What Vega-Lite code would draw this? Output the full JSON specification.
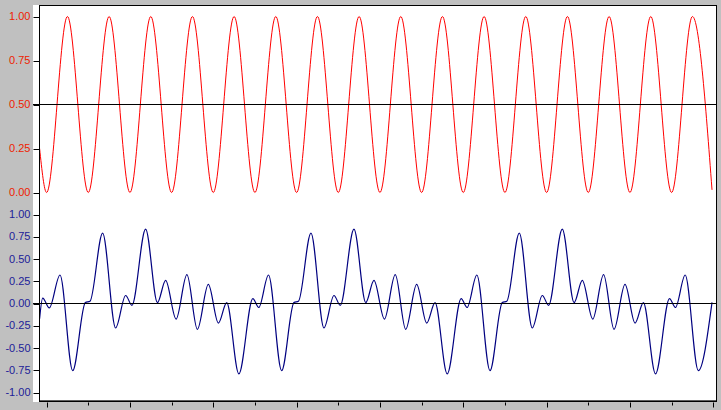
{
  "$schema": "https://vega.github.io/schema/vega-lite/v6.json",
  "width": 684,
  "height": 397,
  "autosize": {"type": "none"},
  "padding": {"left": 33, "top": 5, "right": 4, "bottom": 8},
  "background": "#c0c0c0",
  "config": {
    "view": {"fill": "white", "stroke": null},
    "axis": {"labelFont": "Liberation Sans", "labelFontSize": 11, "grid": false, "domain": false, "title": null},
    "axisX": {"orient": "bottom", "values": [0,1,2,3,4,5,6,7,8,9,10,11,12,13,14,15,16], "labels": false, "ticks": true,
              "tickColor": "black", "tickSize": {"condition": {"test": "datum.value % 2 === 0", "value": 5}, "value": 3}}
  },
  "datasets": {
    "red": [
      {"t": -0.168, "v": 0.25}, {"t": 0, "v": 0}, {"t": 0.5, "v": 1}, {"t": 1, "v": 0}, {"t": 1.5, "v": 1},
      {"t": 2, "v": 0}, {"t": 2.5, "v": 1}, {"t": 3, "v": 0}, {"t": 3.5, "v": 1}, {"t": 4, "v": 0},
      {"t": 4.5, "v": 1}, {"t": 5, "v": 0}, {"t": 5.5, "v": 1}, {"t": 6, "v": 0}, {"t": 6.5, "v": 1},
      {"t": 7, "v": 0}, {"t": 7.5, "v": 1}, {"t": 8, "v": 0}, {"t": 8.5, "v": 1}, {"t": 9, "v": 0},
      {"t": 9.5, "v": 1}, {"t": 10, "v": 0}, {"t": 10.5, "v": 1}, {"t": 11, "v": 0}, {"t": 11.5, "v": 1},
      {"t": 12, "v": 0}, {"t": 12.5, "v": 1}, {"t": 13, "v": 0}, {"t": 13.5, "v": 1}, {"t": 14, "v": 0},
      {"t": 14.5, "v": 1}, {"t": 15, "v": 0}, {"t": 15.5, "v": 1}, {"t": 15.97, "v": 0.015}
    ],
    "blue": [
      {"t": -0.168, "v": -0.17}, {"t": -0.094, "v": 0.06}, {"t": 0.065, "v": -0.05}, {"t": 0.322, "v": 0.32},
      {"t": 0.626, "v": -0.755}, {"t": 0.929, "v": 0.01}, {"t": 1.042, "v": 0.025},
      {"t": 1.345, "v": 0.79}, {"t": 1.657, "v": -0.275}, {"t": 1.897, "v": 0.09}, {"t": 2.048, "v": -0.02},
      {"t": 2.377, "v": 0.835}, {"t": 2.66, "v": 0.01}, {"t": 2.857, "v": 0.26}, {"t": 3.107, "v": -0.175},
      {"t": 3.368, "v": 0.325}, {"t": 3.618, "v": -0.29}, {"t": 3.882, "v": 0.215}, {"t": 4.122, "v": -0.22},
      {"t": 4.323, "v": 0.01}, {"t": 4.614, "v": -0.79}, {"t": 4.95, "v": 0.055}, {"t": 5.091, "v": -0.045},
      {"t": 5.326, "v": 0.32}, {"t": 5.641, "v": -0.755}, {"t": 5.935, "v": 0.01}, {"t": 6.045, "v": 0.025},
      {"t": 6.345, "v": 0.79}, {"t": 6.657, "v": -0.275}, {"t": 6.897, "v": 0.09}, {"t": 7.048, "v": -0.02},
      {"t": 7.377, "v": 0.835}, {"t": 7.66, "v": 0.01}, {"t": 7.857, "v": 0.26}, {"t": 8.107, "v": -0.175},
      {"t": 8.368, "v": 0.325}, {"t": 8.618, "v": -0.29}, {"t": 8.882, "v": 0.215}, {"t": 9.122, "v": -0.22},
      {"t": 9.323, "v": 0.01}, {"t": 9.614, "v": -0.79}, {"t": 9.95, "v": 0.055}, {"t": 10.091, "v": -0.045},
      {"t": 10.326, "v": 0.32}, {"t": 10.641, "v": -0.755}, {"t": 10.935, "v": 0.01}, {"t": 11.045, "v": 0.025},
      {"t": 11.345, "v": 0.79}, {"t": 11.657, "v": -0.275}, {"t": 11.897, "v": 0.09}, {"t": 12.048, "v": -0.02},
      {"t": 12.377, "v": 0.835}, {"t": 12.66, "v": 0.01}, {"t": 12.857, "v": 0.26}, {"t": 13.107, "v": -0.175},
      {"t": 13.368, "v": 0.325}, {"t": 13.618, "v": -0.29}, {"t": 13.882, "v": 0.215}, {"t": 14.122, "v": -0.22},
      {"t": 14.323, "v": 0.01}, {"t": 14.614, "v": -0.79}, {"t": 14.95, "v": 0.055}, {"t": 15.091, "v": -0.045},
      {"t": 15.326, "v": 0.32}, {"t": 15.641, "v": -0.755}, {"t": 15.97, "v": 0.012}
    ]
  },
  "layer": [
    {
      "layer": [
        {
          "data": {"name": "red"},
          "mark": {"type": "line", "color": "#ff0000", "strokeWidth": 1, "interpolate": "monotone"},
          "encoding": {
            "x": {"field": "t", "type": "quantitative", "scale": {"domain": [-0.3264, 16.0896], "nice": false, "zero": false}},
            "y": {"field": "v", "type": "quantitative",
                  "scale": {"domain": [0, 1], "range": [187.5, 11.5], "nice": false, "zero": false},
                  "axis": {"orient": "left", "values": [0, 0.25, 0.5, 0.75, 1], "format": ".2f", "labelColor": "#ee2200",
                           "tickColor": "black", "tickSize": 6, "offset": -6, "labelPadding": 3}}
          }
        },
        {
          "data": {"name": "red"},
          "mark": {"type": "rule", "color": "black", "strokeWidth": 1},
          "encoding": {"y": {"datum": 0.5}}
        },
        {
          "data": {"name": "red"},
          "mark": {"type": "rule", "color": "black", "strokeWidth": 1},
          "encoding": {"y": {"datum": 1.0625}, "x": {"datum": -0.1704, "type": "quantitative"}, "x2": {"datum": 16.0776}}
        }
      ]
    },
    {
      "layer": [
        {
          "data": {"name": "blue"},
          "mark": {"type": "line", "color": "#000080", "strokeWidth": 1.2, "interpolate": "monotone"},
          "encoding": {
            "x": {"field": "t", "type": "quantitative", "scale": {"domain": [-0.3264, 16.0896], "nice": false, "zero": false}},
            "y": {"field": "v", "type": "quantitative",
                  "scale": {"domain": [-1, 1], "range": [387.5, 209.5], "nice": false, "zero": false},
                  "axis": {"orient": "left", "values": [-1, -0.75, -0.5, -0.25, 0, 0.25, 0.5, 0.75, 1], "format": ".2f",
                           "labelExpr": "replace(datum.label, '\u2212', '-')", "labelColor": "#202098",
                           "tickColor": "black", "tickSize": 6, "offset": -6, "labelPadding": 3}}
          }
        },
        {
          "data": {"name": "blue"},
          "mark": {"type": "rule", "color": "black", "strokeWidth": 1},
          "encoding": {"y": {"datum": 0}}
        },
        {
          "data": {"name": "blue"},
          "mark": {"type": "rule", "color": "black", "strokeWidth": 1},
          "encoding": {"y": {"datum": -1.1011}, "x": {"datum": -0.1704, "type": "quantitative"}, "x2": {"datum": 16.0776}}
        },
        {
          "data": {"values": [{"edge": "left"}]},
          "mark": {"type": "rule", "color": "black", "strokeWidth": 1},
          "encoding": {"x": {"datum": -0.1704, "type": "quantitative"}}
        },
        {
          "data": {"values": [{"edge": "right"}]},
          "mark": {"type": "rule", "color": "black", "strokeWidth": 1},
          "encoding": {"x": {"datum": 16.0776, "type": "quantitative"}}
        }
      ]
    }
  ],
  "resolve": {"scale": {"y": "independent"}, "axis": {"y": "independent"}}
}
